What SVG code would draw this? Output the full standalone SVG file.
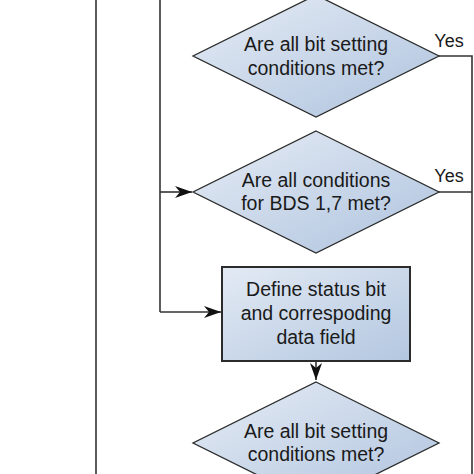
<svg xmlns="http://www.w3.org/2000/svg" width="474" height="474" viewBox="0 0 474 474">
<style>
.shape{stroke:#2b2b2b;stroke-width:1.3;fill:url(#g)}
.box{stroke:#2b2b2b;stroke-width:2;fill:url(#g2)}
.line{stroke:#333;stroke-width:1.6;fill:none}
.t{font-family:"Liberation Sans",Arial,sans-serif;font-size:19.5px;fill:#1a1a1a;text-anchor:middle}
.y{font-family:"Liberation Sans",Arial,sans-serif;font-size:18px;fill:#1a1a1a;text-anchor:middle}
</style>
<defs>
<linearGradient id="g" x1="0" y1="0" x2="1" y2="1">
<stop offset="0" stop-color="#e6ecf5"/>
<stop offset="1" stop-color="#aec3de"/>
</linearGradient>
<linearGradient id="g2" x1="0" y1="0" x2="1" y2="1">
<stop offset="0" stop-color="#e3eaf4"/>
<stop offset="1" stop-color="#b3c7e0"/>
</linearGradient>
<marker id="arr" markerUnits="userSpaceOnUse" markerWidth="18" markerHeight="12" refX="17" refY="6" orient="auto">
<path d="M0,0 L17,6 L0,12 L5,6 z" fill="#111"/>
</marker>
</defs>
<rect width="474" height="474" fill="#fff"/>
<g id="connectors">
<path class="line" d="M96,0 V474"/>
<path class="line" d="M160,0 V312"/>
<path class="line" d="M160,192 H192" marker-end="url(#arr)"/>
<path class="line" d="M160,312 H221" marker-end="url(#arr)"/>
<path class="line" d="M316,361 V380" marker-end="url(#arr)"/>
<path class="line" d="M439,56 H472 V474"/>
<path class="line" d="M439,192 H472"/>
<text class="y" x="449" y="47">Yes</text>
<text class="y" x="449" y="182">Yes</text>
</g>
<g id="d1">
<polygon class="shape" points="316,-5 439,56 316,117 193,56"/>
<text class="t" x="316" y="51">Are all bit setting</text>
<text class="t" x="316" y="75">conditions met?</text>
</g>
<g id="d2">
<polygon class="shape" points="316,131 439,192 316,253 193,192"/>
<text class="t" x="316" y="187">Are all conditions</text>
<text class="t" x="316" y="210">for BDS 1,7 met?</text>
</g>
<g id="box">
<rect class="box" x="222" y="267" width="188" height="94"/>
<text class="t" x="316" y="296">Define status bit</text>
<text class="t" x="316" y="320">and correspoding</text>
<text class="t" x="316" y="344">data field</text>
</g>
<g id="d3">
<polygon class="shape" points="316,382 439,443 316,504 193,443"/>
<text class="t" x="316" y="438">Are all bit setting</text>
<text class="t" x="316" y="461">conditions met?</text>
</g>
</svg>
